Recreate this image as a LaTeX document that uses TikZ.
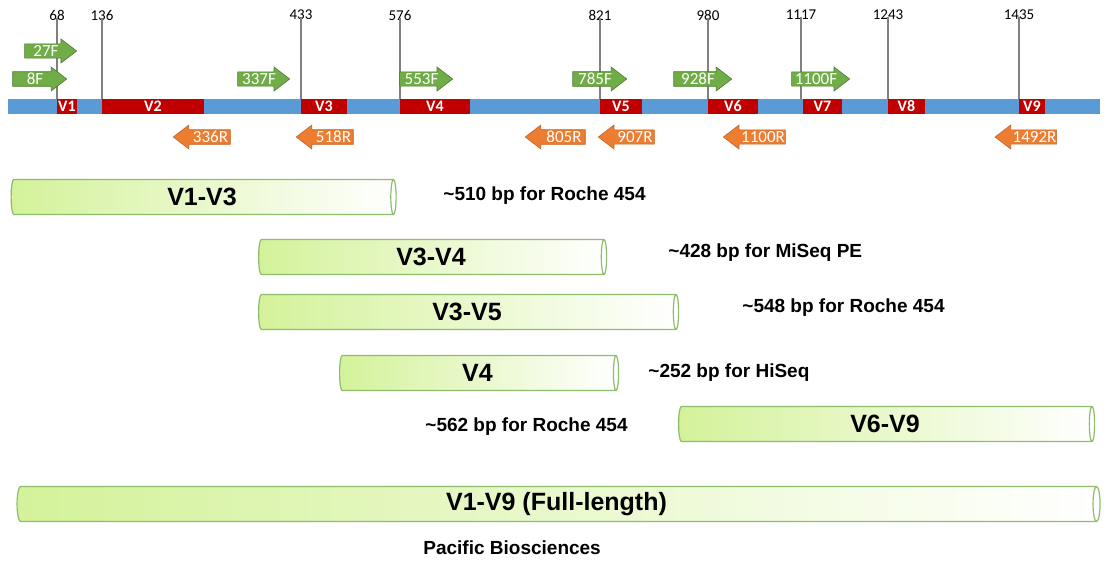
\documentclass[tikz,border=0pt]{standalone}
\usepackage{fontspec}
\setmainfont{Liberation Sans}
\newfontfamily\calib{Carlito}
\usetikzlibrary{positioning,shapes.geometric,shapes.arrows}
\definecolor{gene}{HTML}{5B9BD5}
\definecolor{varreg}{HTML}{C00000}
\definecolor{fwdgreen}{HTML}{70AD47}
\definecolor{revorange}{HTML}{ED7D31}
\definecolor{cylgreen}{HTML}{D4F29A}
\tikzstyle{region}=[fill=varreg,inner sep=0pt,text=white,font=\calib\fontsize{8}{8}\selectfont\bfseries]
\tikzstyle{primer}=[single arrow,single arrow head extend=2pt,single arrow tip angle=75,inner sep=0pt,minimum width=12pt,text=white,font=\calib\fontsize{8.5}{8.5}\selectfont]
\tikzstyle{fwd}=[primer,fill=fwdgreen,draw=fwdgreen!70!black,line width=0.3pt]
\tikzstyle{rev}=[primer,fill=revorange,draw=revorange!80!black,line width=0.3pt,shape border rotate=180]
\tikzstyle{amplicon}=[cylinder,draw=fwdgreen!80,line width=0.6pt,left color=cylgreen,right color=white,aspect=0.3,minimum width=17.5pt,inner sep=0pt,font=\fontsize{12.5}{12.5}\selectfont\bfseries]
\tikzstyle{note}=[anchor=west,inner sep=0pt,font=\fontsize{9.5}{9.5}\selectfont\bfseries]
\begin{document}
\begin{tikzpicture}[x=0.5pt,y=-0.5pt]
    \useasboundingbox (0,0) rectangle (1108,564);
    % gene bar with variable regions
    \fill[gene] (8,99) rectangle (1100,114);
    \foreach \name/\xa/\xb in {V1/57/77,V2/102/204,V3/301/347,V4/400/470,V5/600/642,V6/708/758,V7/803/842,V8/888/925,V9/1019/1045}
        \node[region,minimum width=(\xb-\xa)*0.5pt,minimum height=7.5pt] (\name) at ({(\xa+\xb)/2},106.5) {\name};
    % positions
    \foreach \pos/\x in {68/57,136/102,433/301,576/400,821/600,980/708,1117/801,1243/888,1435/1019}{
        \coordinate (p\pos) at (\x,99);
        \node[font=\calib\fontsize{7.5}{7.5}\selectfont,inner sep=0pt] (t\pos) at (\x,15) {\pos};
        \draw[gray,line width=0.6pt] (t\pos.south) ++(0,-3) coordinate (u\pos) (u\pos) -- (p\pos);
    }
    % forward primers
    \foreach \name/\xa/\xb/\y in {27F/20/72/51,8F/8/62/79,337F/233/285/79,553F/395/448/79,785F/568/622/79,928F/669/727/79,1100F/787/845/79}
        \node[fwd,minimum height=(\xb-\xa)*0.5pt] (f\name) at ({(\xa+\xb)/2},\y) {\name\hspace{4pt}};
    % reverse primers
    \foreach \name/\xa/\xb in {336R/178/235,518R/301/358,805R/530/590,907R/603/659,1100R/728/790,1492R/1000/1061}
        \node[rev,minimum height=(\xb-\xa)*0.5pt] (r\name) at ({(\xa+\xb)/2},137) {\hspace{4pt}\name};
    % amplicons
    \node[amplicon,minimum height=192.5pt] (a13) at (202,197) {V1-V3};
    \node[amplicon,minimum height=174pt] (a34) at (431,257) {V3-V4};
    \node[amplicon,minimum height=210pt] (a35) at (467,312) {V3-V5};
    \node[amplicon,minimum height=139.5pt] (a4) at (477.5,373) {V4};
    \node[amplicon,minimum height=208pt] (a69) at (885,424) {V6-V9};
    \node[amplicon,minimum height=541.5pt] (a19) at (556.5,504) {V1-V9 (Full-length)};
    % notes
    \node[note] (n13) at (443,196) {\textasciitilde510 bp for Roche 454};
    \node[note] (n34) at (668,253) {\textasciitilde428 bp for MiSeq PE};
    \node[note] (n35) at (742,308) {\textasciitilde548 bp for Roche 454};
    \node[note] (n4) at (648,373) {\textasciitilde252 bp for HiSeq};
    \node[note] (n69) at (425,427) {\textasciitilde562 bp for Roche 454};
    \node[note] (n19) at (423,548) {Pacific Biosciences};
\end{tikzpicture}
\end{document}
